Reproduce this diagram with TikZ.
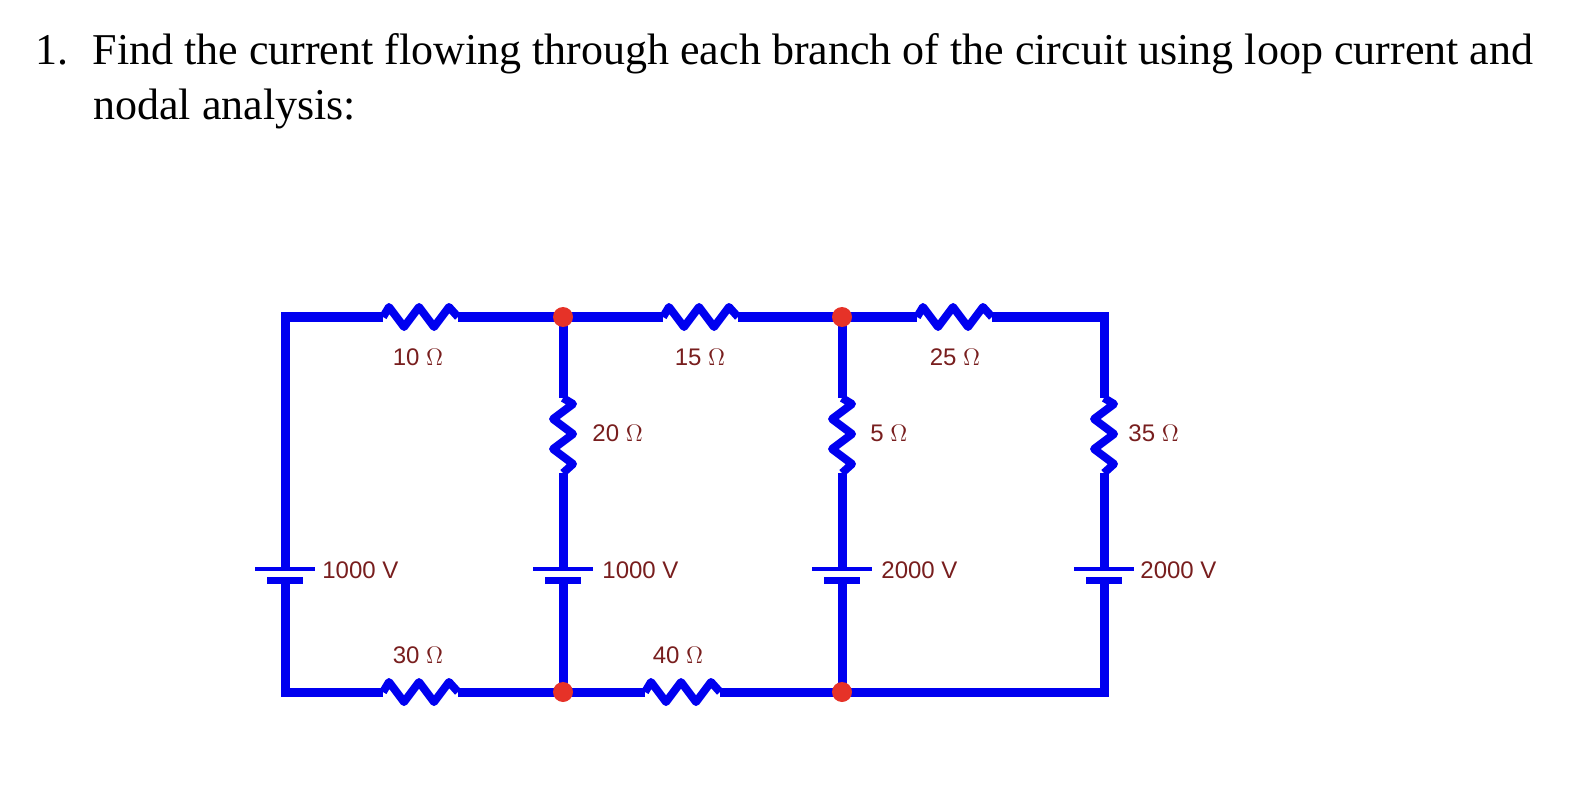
\documentclass[tikz,border=0pt]{standalone}
\usepackage{fontspec}
\setmainfont{Liberation Serif}
\newfontfamily\lblfont{Liberation Sans}
\usetikzlibrary{positioning}
\definecolor{wire1}{RGB}{0, 0, 240}
\definecolor{dot1}{RGB}{230, 50, 40}
\definecolor{lbl1}{RGB}{120, 30, 30}

\begin{document}
\begin{tikzpicture}[x=0.5pt, y=-0.5pt,
    wire/.style={draw=wire1, line width=4.5pt, line join=miter},
    zig/.style={draw=wire1, line width=4pt, line join=round},
    lbl/.style={font=\lblfont\fontsize{12}{12}\selectfont, text=lbl1, inner sep=0pt},
    title/.style={font=\fontsize{22}{22}\selectfont, anchor=base west, inner sep=0pt},
    junction/.style={circle, fill=dot1, minimum size=10pt, inner sep=0pt},
    hres/.pic={\draw[zig] (0,0) -- (6,-10) -- (21,10) -- (36,-10) -- (51,10) -- (66,-10) -- (75,0);},
    vres/.pic={\draw[zig] (0,0) -- (10,6) -- (-10,21) -- (10,36) -- (-10,51) -- (10,66) -- (0,75);},
    batt/.pic={\draw[draw=wire1, line width=2pt] (-30,0) -- (30,0);
               \draw[draw=wire1, line width=3.5pt] (-18,11) -- (18,11);}]
    \useasboundingbox (0,0) rectangle (1574,802);
    % question
    \node[title] (q1) at (35,65) {1.\hspace{0.55em}Find the current flowing through each branch of the circuit using loop current and};
    \node[title] (q2) at (93,120) {nodal analysis:};
    % corners
    \coordinate (tl) at (285,317);
    \coordinate (bl) at (285,692);
    \coordinate (tr) at (1104,317);
    \coordinate (br) at (1104,692);
    % wires
    \draw[wire] (bl |- 0,581) -- (bl) -- (br) -- (br |- 0,581);
    \draw[wire] (tl |- 0,569) -- (tl) -- (tr) -- (tr |- 0,569);
    \foreach \x in {563,842} {
        \draw[wire] (\x,317) -- (\x,569);
        \draw[wire] (\x,581) -- (\x,692);
    }
    % resistors (white out wire first)
    \foreach \x in {383,663,917} {
        \fill[white] (\x,310) rectangle (\x+75,324);
        \pic at (\x,317) {hres};
    }
    \foreach \x in {383,645} {
        \fill[white] (\x,685) rectangle (\x+75,699);
        \pic at (\x,692) {hres};
    }
    \foreach \x in {563,842,1104} {
        \fill[white] (\x-7,398) rectangle (\x+7,473);
        \pic at (\x,398) {vres};
    }
    % batteries
    \foreach \x in {285,563,842,1104} \pic at (\x,569) {batt};
    % junctions
    \node[junction] (t2) at (563,317) {};
    \node[junction] (t3) at (842,317) {};
    \node[junction] (b2) at (563,692) {};
    \node[junction] (b3) at (842,692) {};
    % labels
    \node[lbl] (r1) at (418,357) {10 $\Omega$};
    \node[lbl] (r2) at (700,357) {15 $\Omega$};
    \node[lbl] (r3) at (955,357) {25 $\Omega$};
    \node[lbl, anchor=west] (r4) at (592,433) {20 $\Omega$};
    \node[lbl, anchor=west] (r5) at (870,433) {5 $\Omega$};
    \node[lbl, anchor=west] (r6) at (1128,433) {35 $\Omega$};
    \node[lbl] (r7) at (418,655) {30 $\Omega$};
    \node[lbl] (r8) at (678,655) {40 $\Omega$};
    \node[lbl, anchor=west] (v1) at (322,570) {1000 V};
    \node[lbl, anchor=west] (v2) at (602,570) {1000 V};
    \node[lbl, anchor=west] (v3) at (881,570) {2000 V};
    \node[lbl, anchor=west] (v4) at (1140,570) {2000 V};
\end{tikzpicture}
\end{document}
